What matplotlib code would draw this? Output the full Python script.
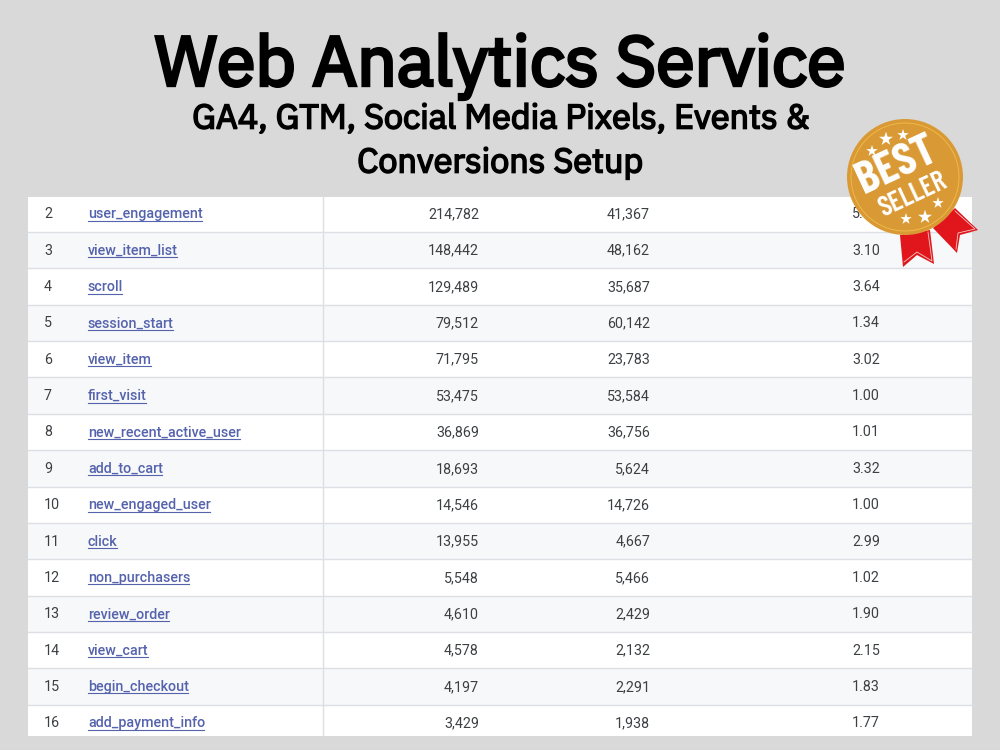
import numpy as np
import matplotlib
matplotlib.use('Agg')
import matplotlib.pyplot as plt
import matplotlib.patheffects as pe
from matplotlib.patches import Rectangle, Circle, Polygon

rank = [2, 3, 4, 5, 6, 7, 8, 9, 10, 11, 12, 13, 14, 15, 16]
events = ['user_engagement', 'view_item_list', 'scroll', 'session_start', 'view_item',
          'first_visit', 'new_recent_active_user', 'add_to_cart', 'new_engaged_user',
          'click', 'non_purchasers', 'review_order', 'view_cart', 'begin_checkout',
          'add_payment_info']
event_count = [214782, 148442, 129489, 79512, 71795, 53475, 36869, 18693, 14546,
               13955, 5548, 4610, 4578, 4197, 3429]
total_users = [41367, 48162, 35687, 60142, 23783, 53584, 36756, 5624, 14726,
               4667, 5466, 2429, 2132, 2291, 1938]
per_user = [5.19, 3.10, 3.64, 1.34, 3.02, 1.00, 1.01, 3.32, 1.00, 2.99, 1.02,
            1.90, 2.15, 1.83, 1.77]

fig = plt.figure(figsize=(10, 7.5), dpi=100, facecolor='#d9d9d9')
ax = fig.add_axes([0, 0, 1, 1])
ax.set_xlim(0, 1000)
ax.set_ylim(750, 0)
ax.axis('off')

# titles, only the regular weight of this font is installed so thicken it with a stroke
title_font = ['IBM Plex Sans', 'Open Sans']
ax.text(500, 66.5, 'Web Analytics Service', ha='center', va='center', fontsize=50.3,
        family=title_font, color='black',
        path_effects=[pe.withStroke(linewidth=2.4, foreground='black', joinstyle='miter')])
ax.text(500, 119.5, 'GA4, GTM, Social Media Pixels, Events &', ha='center', va='center',
        fontsize=24.6, family=title_font, color='black',
        path_effects=[pe.withStroke(linewidth=1.2, foreground='black', joinstyle='miter')])
ax.text(500, 163.5, 'Conversions Setup', ha='center', va='center',
        fontsize=24.6, family=title_font, color='black',
        path_effects=[pe.withStroke(linewidth=1.2, foreground='black', joinstyle='miter')])

# table
top, row_h = 195.7, 36.35
left, right, bottom = 28, 972, 736
ax.add_patch(Rectangle((left, 197), right - left, bottom - 197, fc='white', ec='none', zorder=1))
renderer = fig.canvas.get_renderer()
for i in range(len(rank)):
    y0 = top + i * row_h
    yc = y0 + row_h / 2
    if i % 2 == 1:
        ax.add_patch(Rectangle((left, y0), right - left, row_h, fc='#f6f8fa', ec='none', zorder=1.1))
    if i > 0:
        ax.plot([left, right], [y0, y0], color='#dcdfe3', lw=1, zorder=1.2)
    ax.text(44, yc + 0.5, str(rank[i]), ha='left', va='center', fontsize=10.3, family='Roboto',
            color='#3c4043', zorder=2)
    t = ax.text(88, yc + 0.5, events[i], ha='left', va='center', fontsize=10.3, family='Roboto',
                fontweight='medium', color='#5563ad', zorder=2)
    bb = t.get_window_extent(renderer)
    ax.plot([88, 87 + bb.width], [yc + 7, yc + 7], color='#5563ad', lw=0.8, zorder=2)
    ax.text(479, yc + 0.5, f'{event_count[i]:,}', ha='right', va='center', fontsize=10.3,
            family='Roboto', color='#3c4043', zorder=2)
    ax.text(650, yc + 0.5, f'{total_users[i]:,}', ha='right', va='center', fontsize=10.3,
            family='Roboto', color='#3c4043', zorder=2)
    ax.text(880, yc + 0.5, f'{per_user[i]:.2f}', ha='right', va='center', fontsize=10.3,
            family='Roboto', color='#3c4043', zorder=2)
ax.plot([323, 323], [197, bottom], color='#dcdfe3', lw=1, zorder=1.2)

# best seller badge
ribbon1 = [(900, 235), (930, 230), (934, 264), (917, 255), (903, 267)]
ribbon2 = [(933, 228), (955, 208), (978, 230), (960, 235), (957, 253)]
ribbon1_line = [(928, 232), (932, 261), (917, 252), (904, 262)]
ribbon2_line = [(955, 211), (975, 229), (958, 233), (956, 249)]
ax.add_patch(Polygon(ribbon1, fc='#e0161c', ec='none', zorder=3))
ax.add_patch(Polygon(ribbon2, fc='#e0161c', ec='none', zorder=3))
ax.plot(*zip(*ribbon1_line), color='#f6c9c4', lw=0.6, zorder=3.1)
ax.plot(*zip(*ribbon2_line), color='#f6c9c4', lw=0.6, zorder=3.1)
ax.add_patch(Circle((905, 177), 58, fc='#d99a36', ec='none', zorder=4))
ax.add_patch(Circle((905, 177), 54, fc='none', ec='#f2bc4a', lw=0.6, zorder=4.1))
ax.text(897, 165, 'BEST', rotation=25, ha='center', va='center', fontsize=33, fontweight='bold',
        family='Barlow Condensed', color='white', zorder=5, rotation_mode='anchor')
ax.text(913, 195, 'SELLER', rotation=25, ha='center', va='center', fontsize=20, fontweight='semibold',
        family='Barlow Condensed', color='white', zorder=5, rotation_mode='anchor')
star_x = [872, 886, 903, 938, 925, 906]
star_y = [151, 139, 135, 203, 217, 219]
star_s = [75, 110, 75, 75, 110, 75]
ax.scatter(star_x, star_y, s=star_s, marker='*', c='white', linewidths=0, zorder=5)

fig.savefig('out.png', dpi=100, facecolor=fig.get_facecolor())
